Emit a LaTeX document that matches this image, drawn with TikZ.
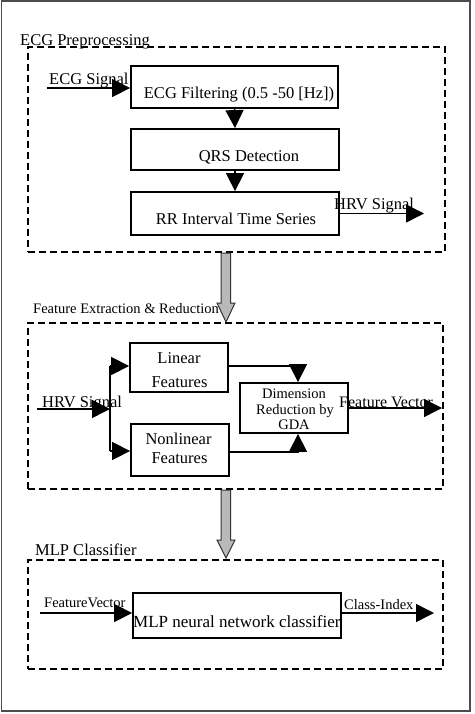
\documentclass[tikz,border=0pt]{standalone}
\usepackage{fontspec}
\setmainfont{Liberation Serif}
\usetikzlibrary{arrows.meta}
\begin{document}
\begin{tikzpicture}[x=1pt,y=-1pt,
  box/.style={draw, line width=1.8pt, inner sep=0pt},
  grp/.style={draw, line width=1.5pt, dash pattern=on 7pt off 4pt, inner sep=0pt},
  txt/.style={inner sep=0pt, anchor=base west, font=\fontsize{16.5}{18}\selectfont},
  ctxt/.style={txt, anchor=base},
  stxt/.style={txt, font=\fontsize{14.5}{16}\selectfont},
  sctxt/.style={stxt, anchor=base},
  ar/.style={line width=1.5pt, -{Triangle[length=18pt,width=18pt]}},
  ln/.style={line width=1.5pt},
  bigarrow/.style={fill=gray!55, draw=gray!40!black, line width=1pt}]
\useasboundingbox (0,0) rectangle (474,714);
\fill[white] (0,0) rectangle (474,714);
\draw[gray!60!black, line width=1.5pt] (1.5,1) rectangle (470,711);

% ---- texts ----
\node[txt] (tpre) at (20,46) {ECG Preprocessing};
\node[txt] (tecg) at (49,85) {ECG Signal};
\node[ctxt] (tfilt) at (239,99) {ECG Filtering (0.5 -50 [Hz])};
\node[ctxt] (tqrs) at (249,161) {QRS Detection};
\node[ctxt] (trr) at (236,224) {RR Interval Time Series};
\node[txt] (thrv1) at (334,209) {HRV Signal};

\node[stxt] (tfe) at (33,313) {Feature Extraction \& Reduction};
\node[ctxt] (tlin1) at (179,363) {Linear};
\node[ctxt] (tlin2) at (179.5,387) {Features};
\node[ctxt] (tnl1) at (178.5,444) {Nonlinear};
\node[ctxt] (tnl2) at (179.5,463) {Features};
\node[sctxt] (td1) at (294,398) {Dimension};
\node[sctxt] (td2) at (295,414) {Reduction by};
\node[sctxt] (td3) at (294,429) {GDA};
\node[txt] (thrv2) at (42,407) {HRV Signal};
\node[txt, font=\fontsize{16}{18}\selectfont] (tfv) at (339,407) {Feature Vector};

\node[txt] (tmlpc) at (35,555) {MLP Classifier};
\node[stxt] (tfv2) at (44,607) {FeatureVector};
\node[stxt] (tci) at (344,609) {Class-Index};
\node[txt, font=\fontsize{17}{19}\selectfont] (tmlp) at (133,627) {MLP neural network classifier};

% ---- group boxes ----
\node[grp, minimum width=417pt, minimum height=205pt] (g1) at (236.5,149.5) {};
\node[grp, minimum width=415pt, minimum height=166pt] (g2) at (235.5,406) {};
\node[grp, minimum width=415pt, minimum height=109pt] (g3) at (235.5,614.5) {};

% ---- boxes ----
\node[box, minimum width=207pt, minimum height=42pt] (filt) at (234.5,87) {};
\node[box, minimum width=208pt, minimum height=41pt] (qrs) at (235,149.5) {};
\node[box, minimum width=208pt, minimum height=43pt] (rr) at (235,213.5) {};
\node[box, minimum width=98pt, minimum height=49pt] (lin) at (179,367.5) {};
\node[box, minimum width=98pt, minimum height=52pt] (nl) at (180,450) {};
\node[box, minimum width=108pt, minimum height=50pt] (dim) at (294,408) {};
\node[box, minimum width=208pt, minimum height=45pt] (mlp) at (237,615.5) {};

% ---- coordinates ----
\coordinate (ecgin) at (47,88);
\coordinate (hrvout) at (424,213.5);
\coordinate (hrvin) at (37,409);
\coordinate (br) at (110,409);
\coordinate (fvout) at (442,408);
\coordinate (fvin) at (40,613);
\coordinate (ciout) at (434,613);

% ---- connectors ----
\draw[ar] (ecgin) -- (ecgin -| filt.west);
\draw[ar] (filt.south) -- (qrs.north);
\draw[ar] (qrs.south) -- (rr.north);
\draw[ar] (rr.east) -- (hrvout);

\draw[ar] (hrvin) -- (br);
\draw[ln] (br |- 0,366) -- (br |- 0,451);
\draw[ar] (br |- 0,366) -- (lin.west |- 0,366);
\draw[ar] (br |- 0,451) -- (nl.west |- 0,451);
\draw[ar] (lin.east |- 0,366) -| ([xshift=4pt]dim.north);
\draw[ar] (nl.east |- 0,452) -| ([xshift=4pt]dim.south);
\draw[ar] (dim.east) -- (fvout);

\draw[ar] (fvin) -- (fvin -| mlp.west);
\draw[ar] (mlp.east |- ciout) -- (ciout);

% ---- big gray arrows ----
\draw[bigarrow] (221,253) -- (221,303) -- (217,303) -- (226,322) -- (235,303) -- (230.5,303) -- (230.5,253) -- cycle;
\draw[bigarrow] (221,490) -- (221,540) -- (217,540) -- (226,558) -- (235,540) -- (230.5,540) -- (230.5,490) -- cycle;
\end{tikzpicture}
\end{document}
